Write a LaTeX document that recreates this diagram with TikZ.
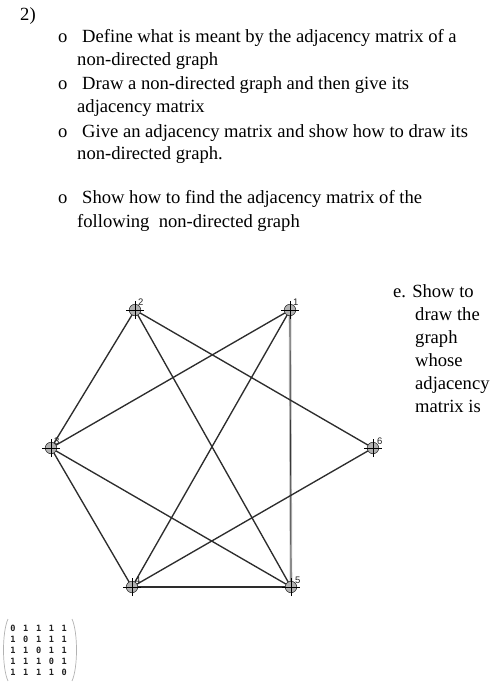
\documentclass[tikz,border=0pt]{standalone}
\usepackage{fontspec}
\setmainfont{Liberation Serif}
\newfontfamily\monofont{DejaVu Sans Mono}
\newfontfamily\lblfont{Liberation Sans}
\usetikzlibrary{backgrounds}
\begin{document}
\begin{tikzpicture}[x=1pt,y=-1pt,
 txt/.style={anchor=base west,inner sep=0,font=\fontsize{18.6}{22}\selectfont},
 vtx/.style={circle,fill=gray!60,draw=gray!40!black,line width=0.6pt,minimum size=11.5pt,inner sep=0},
 edge/.style={draw=gray!35!black,line width=1.35pt},
 vedge/.style={draw=gray!55,line width=2.6pt},
 vcore/.style={draw=gray!45!black,line width=0.7pt},
 cross/.style={draw=black,line width=0.9pt},
 lbl/.style={font=\lblfont\fontsize{9.5}{9.5}\selectfont,text=gray!25!black,inner sep=0,anchor=south west},
 mx/.style={font=\monofont\bfseries\fontsize{8.6}{8.6}\selectfont,text=gray!25!black,inner sep=0,anchor=base},
 paren/.style={draw=gray!60,line width=0.7pt}]
\useasboundingbox (0,0) rectangle (492,683);

% question text
\node[txt] (q) at (20,20) {2)};
\node[txt] (b1) at (58,42) {o};
\node[txt] (t1) at (82,42) {Define what is meant by the adjacency matrix of a};
\node[txt] (t1b) at (77,65) {non-directed graph};
\node[txt] (b2) at (58,89) {o};
\node[txt] (t2) at (82,89) {Draw a non-directed graph and then give its};
\node[txt] (t2b) at (77,112) {adjacency matrix};
\node[txt] (b3) at (58,137) {o};
\node[txt] (t3) at (82,137) {Give an adjacency matrix and show how to draw its};
\node[txt] (t3b) at (77,159) {non-directed graph.};
\node[txt] (b4) at (58,203) {o};
\node[txt] (t4) at (82,203) {Show how to find the adjacency matrix of the};
\node[txt] (t4b) at (77,227) {following\ \ non-directed graph};

% right text
\node[txt] (e1) at (393,297) {e. Show to};
\node[txt] (e2) at (415,320) {draw the};
\node[txt] (e3) at (415,343) {graph};
\node[txt] (e4) at (415,366) {whose};
\node[txt] (e5) at (415,389) {adjacency};
\node[txt] (e6) at (415,412) {matrix is};

% graph vertices
\node[vtx] (n1) at (290,310) {};
\node[vtx] (n2) at (135,310) {};
\node[vtx] (n3) at (51,448) {};
\node[vtx] (n6) at (373,448) {};
\node[vtx] (n4) at (132,587) {};
\node[vtx] (n5) at (291,587) {};
\foreach \n in {n1,n2,n3,n4,n5,n6}{
  \draw[cross] ([xshift=-9pt]\n.center) -- ([xshift=9pt]\n.center);
  \draw[cross] ([yshift=-9pt]\n.center) -- ([yshift=9pt]\n.center);
}
\node[lbl] (l1) at ([xshift=3pt,yshift=4pt]n1.center) {1};
\node[lbl] (l2) at ([xshift=3pt,yshift=4pt]n2.center) {2};
\node[lbl] (l3) at ([xshift=3pt,yshift=3pt]n3.center) {3};
\node[lbl] (l4) at ([xshift=3pt,yshift=3pt]n4.center) {4};
\node[lbl] (l5) at ([xshift=4pt,yshift=3pt]n5.center) {5};
\node[lbl] (l6) at ([xshift=4pt,yshift=3pt]n6.center) {6};

\begin{scope}[on background layer]
\draw[vedge] (n1.center) -- (n5.center);
\draw[vcore] (n1.center) -- (n5.center);
\draw[edge] (n1.center) -- (n3.center);
\draw[edge] (n1.center) -- (n4.center);
\draw[edge] (n2.center) -- (n3.center);
\draw[edge] (n2.center) -- (n5.center);
\draw[edge] (n2.center) -- (n6.center);
\draw[edge] (n3.center) -- (n4.center);
\draw[edge] (n3.center) -- (n5.center);
\draw[edge] (n4.center) -- (n5.center);
\draw[edge] (n4.center) -- (n6.center);
\end{scope}

% matrix
\foreach \row [count=\i] in {{0,1,1,1,1},{1,0,1,1,1},{1,1,0,1,1},{1,1,1,0,1},{1,1,1,1,0}}{
  \foreach \v [count=\j] in \row {
    \node[mx] (m\i\j) at (13+12.8*\j-12.8, 620+11*\i) {\v};
  }
}
\draw[paren] (8,619) .. controls (2,632) and (2,668) .. (8,681);
\draw[paren] (72,619) .. controls (78,632) and (78,668) .. (72,681);
\end{tikzpicture}
\end{document}
